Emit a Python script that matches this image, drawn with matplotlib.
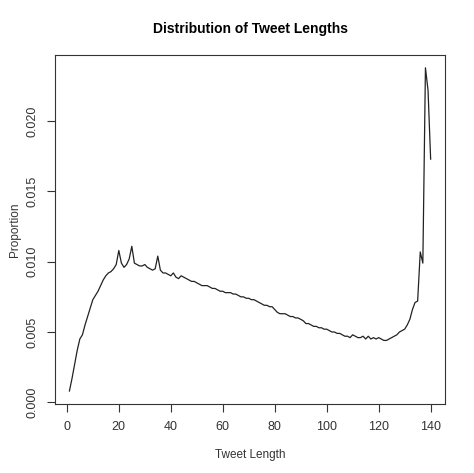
import numpy as np
import matplotlib.pyplot as plt

plt.rcParams['font.family'] = ['Liberation Sans', 'DejaVu Sans']

# proportion of tweets per tweet length (1..140)
tweet_length = np.arange(1, 141)
proportion = [
    0.0008, 0.0017, 0.0027, 0.0037, 0.0045, 0.0048, 0.0055, 0.0061, 0.0067, 0.0073,
    0.0076, 0.0079, 0.0083, 0.0087, 0.0090, 0.0092, 0.0093, 0.0095, 0.0098, 0.0108,
    0.0099, 0.0096, 0.0098, 0.0102, 0.0111, 0.0099, 0.0098, 0.0097, 0.0097, 0.0098,
    0.0096, 0.0095, 0.0094, 0.0095, 0.0104, 0.0094, 0.0092, 0.0092, 0.0091, 0.0090,
    0.0092, 0.0089, 0.0088, 0.0090, 0.0089, 0.0088, 0.0087, 0.0086, 0.0086, 0.0085,
    0.0084, 0.0083, 0.0083, 0.0083, 0.0082, 0.0081, 0.0081, 0.0080, 0.0079, 0.0079,
    0.0078, 0.0078, 0.0078, 0.0077, 0.0077, 0.0076, 0.0075, 0.0075, 0.0074, 0.0074,
    0.0073, 0.0073, 0.0072, 0.0071, 0.0070, 0.0069, 0.0069, 0.0068, 0.0068, 0.0066,
    0.0064, 0.0063, 0.0063, 0.0063, 0.0062, 0.0061, 0.0061, 0.0060, 0.0060, 0.0059,
    0.0058, 0.0056, 0.0056, 0.0055, 0.0054, 0.0054, 0.0053, 0.0053, 0.0052, 0.0052,
    0.0051, 0.0050, 0.0050, 0.0049, 0.0049, 0.0048, 0.0047, 0.0047, 0.0046, 0.0048,
    0.0047, 0.0046, 0.0046, 0.0047, 0.0045, 0.0047, 0.0045, 0.0046, 0.0045, 0.0046,
    0.0045, 0.0044, 0.0044, 0.0045, 0.0046, 0.0047, 0.0048, 0.0050, 0.0051, 0.0052,
    0.0055, 0.0059, 0.0066, 0.0071, 0.0072, 0.0107, 0.0099, 0.0238, 0.0222, 0.0173,
]
x_ticks = [0, 20, 40, 60, 80, 100, 120, 140]
y_ticks = [0.000, 0.005, 0.010, 0.015, 0.020]

fig = plt.figure(figsize=(4.74, 4.73), dpi=100)
ax = fig.add_axes([0.116, 0.146, 0.823, 0.738])

ax.plot(tweet_length, proportion, color='#222222', lw=0.9)

# R-style 4% padding on the data range
xr = tweet_length.max() - tweet_length.min()
ax.set_xlim(tweet_length.min() - 0.04 * xr, tweet_length.max() + 0.04 * xr)
yr = max(proportion) - min(proportion)
ax.set_ylim(min(proportion) - 0.04 * yr, max(proportion) + 0.04 * yr)

ax.set_xticks(x_ticks)
ax.set_yticks(y_ticks)
ax.set_yticklabels(['%.3f' % v for v in y_ticks], rotation=90, va='center')
ax.tick_params(direction='out', length=6, width=0.8, colors='#333333',
               labelsize=9, pad=6)
for s in ax.spines.values():
    s.set_linewidth(0.8)
    s.set_color('#333333')

ax.set_title('Distribution of Tweet Lengths', fontsize=10, fontweight='bold', pad=16)
ax.set_xlabel('Tweet Length', fontsize=8.5, color='#333333', labelpad=12)
ax.set_ylabel('Proportion', fontsize=8.5, color='#333333', labelpad=4)

fig.savefig('out.png', dpi=100)
